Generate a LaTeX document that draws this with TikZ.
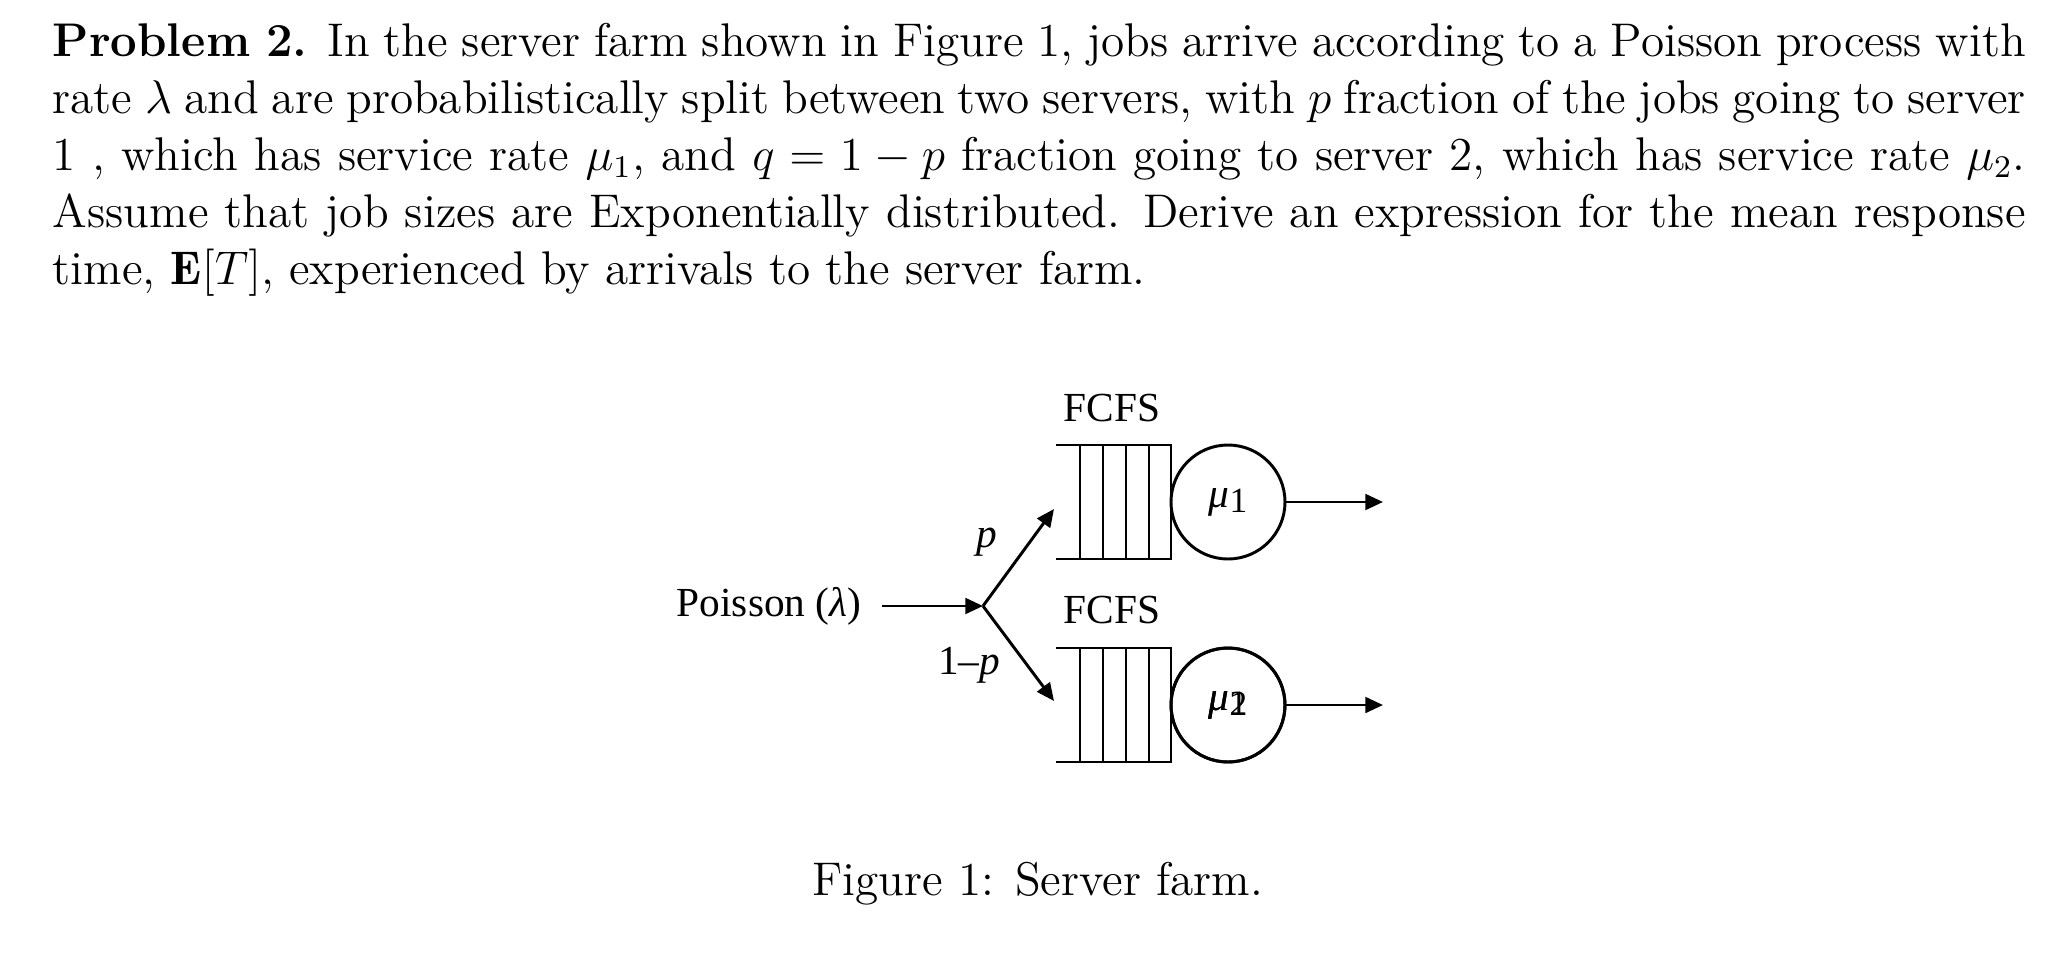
\documentclass[tikz,border=0pt]{standalone}
\usepackage{fontspec}
\usepackage{amsmath}
\usetikzlibrary{arrows.meta}
\newfontfamily\figfont{Liberation Serif}
\begin{document}
\begin{tikzpicture}[x=0.254pt,y=-0.254pt,
  thickln/.style={line width=0.75pt},
  thinln/.style={line width=0.3pt},
  arr/.style={line width=0.75pt,-{Triangle[length=4.5pt,width=4pt]}},
  srv/.style={circle,draw,line width=0.75pt,minimum size=114*0.254pt,inner sep=0pt,font=\figfont\fontsize{10.5}{12}\selectfont},
  lbl/.style={font=\figfont\fontsize{10.5}{12}\selectfont,inner sep=0pt}]
\useasboundingbox (0,0) rectangle (2052,954);
\node[anchor=north west,inner sep=0pt,text width=1973*0.254pt,align=justify,font=\fontsize{12}{14.5}\selectfont] (para) at (52,22)
{\textbf{Problem 2.} In the server farm shown in Figure 1, jobs arrive according to a Poisson process with\linebreak
rate $\lambda$ and are probabilistically split between two servers, with $p$ fraction of the jobs going to server\linebreak
1 , which has service rate $\mu_1$, and $q=1-p$ fraction going to server 2, which has service rate $\mu_2$.\linebreak
Assume that job sizes are Exponentially distributed. Derive an expression for the mean response\linebreak
time, $\mathbf{E}[T]$, experienced by arrivals to the server farm.};
% labels
\node[lbl,anchor=east] (poi) at (862,606) {Poisson (\textit{λ})};
\coordinate (in) at (882,606);
\coordinate (br) at (983,606);
\coordinate (t1) at (1054,509);
\coordinate (t2) at (1054,701);
\node[lbl] (pl) at (987,542) {\textit{p}};
\node[lbl] (ql) at (969,665) {1–\textit{p}};
\node[lbl] (f1) at (1112,408) {FCFS};
\node[lbl] (f2) at (1112,610) {FCFS};
% queues
\foreach \n/\yt/\yb/\yc in {1/445/559/502,2/648/762/705}{
  \draw[thickln] (1056,\yt) -- (1171,\yt) -- (1171,\yb) -- (1056,\yb);
  \foreach \x in {1080,1103,1126,1149} \draw[thinln] (\x,\yt) -- (\x,\yb);
  \node[srv] (s\n) at (1228,\yc) {\textit{μ}\raisebox{-0.3ex}{\small 1}};
  \coordinate (o\n) at (1383,\yc);
}
\node[srv] at (s2) {\textit{μ}\raisebox{-0.3ex}{\small 2}};
\draw[arr] (in) -- (br);
\draw[arr] (br) -- (t1);
\draw[arr] (br) -- (t2);
\draw[arr] (s1.east) -- (o1);
\draw[arr] (s2.east) -- (o2);
\node[anchor=base,inner sep=0pt,font=\fontsize{12}{14.5}\selectfont] (cap) at (1038,895) {Figure 1: Server farm.};
\end{tikzpicture}
\end{document}
